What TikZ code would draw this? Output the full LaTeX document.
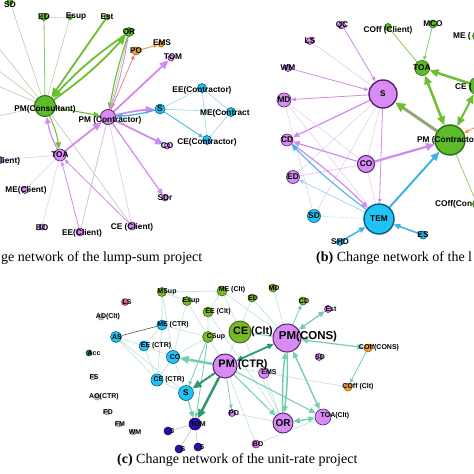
\documentclass[tikz,border=0pt]{standalone}
\usepackage{fontspec}
\newfontfamily\lblfont{Liberation Sans}
\newfontfamily\capfont{Liberation Serif}
\usetikzlibrary{arrows.meta}
\pgfdeclarelayer{bg}
\pgfsetlayers{bg,main}
\definecolor{gA}{HTML}{5DBB2A}\definecolor{gAd}{HTML}{2E6A10}
\definecolor{pA}{HTML}{D68CF2}\definecolor{pAd}{HTML}{5A2070}
\definecolor{cyA}{HTML}{20C4F4}\definecolor{cyAd}{HTML}{0A5A80}
\definecolor{oA}{HTML}{F0A030}\definecolor{oAd}{HTML}{A05A10}
\definecolor{gC}{HTML}{77B82A}\definecolor{gCd}{HTML}{3D6A10}
\definecolor{dB}{HTML}{2A10A8}\definecolor{dBd}{HTML}{180860}
\definecolor{gy}{HTML}{C4C4C4}\definecolor{gyd}{HTML}{909090}
\definecolor{pk}{HTML}{E0609A}\definecolor{acc}{HTML}{1E7A5A}
\definecolor{eGl}{HTML}{BCCCA8}\definecolor{eG}{HTML}{6CC030}
\definecolor{eGm}{HTML}{8DC860}\definecolor{eP}{HTML}{D08AF0}
\definecolor{ePl}{HTML}{E4C8F0}\definecolor{eB}{HTML}{3CB4E4}
\definecolor{eBl}{HTML}{9AD4EC}\definecolor{eR}{HTML}{E0806A}
\definecolor{eO}{HTML}{F0A040}\definecolor{ePG}{HTML}{8FA878}
\definecolor{eT}{HTML}{74CDAE}\definecolor{eTl}{HTML}{BEE2D6}
\definecolor{eD}{HTML}{2E9A6C}\definecolor{eK}{HTML}{555555}
\tikzset{
 nd/.style={circle,draw,inner sep=0pt,line width=0.6pt},
 ga/.style={nd,fill=gA,draw=gAd},
 pa/.style={nd,fill=pA,draw=pAd},
 cy/.style={nd,fill=cyA,draw=cyAd},
 oa/.style={nd,fill=oA,draw=oAd},
 gc/.style={nd,fill=gC,draw=gCd},
 db/.style={nd,fill=dB,draw=dBd},
 gyn/.style={nd,fill=gy,draw=gyd},
 lbl/.style={font=\lblfont\bfseries\fontsize{8.3}{9}\selectfont,inner sep=0pt},
 lbs/.style={font=\lblfont\bfseries\fontsize{7}{8}\selectfont,inner sep=0pt},
 lbb/.style={font=\lblfont\bfseries\fontsize{#1}{#1}\selectfont,inner sep=0pt},
 capf/.style={font=\capfont\fontsize{14}{16}\selectfont,inner sep=0pt},
 ahs/.style={-{Triangle[length=4.5pt,width=3.6pt]}},
 ahm/.style={-{Triangle[length=6.5pt,width=5.5pt]}},
 ahl/.style={-{Triangle[length=9pt,width=7.5pt]}},
 abm/.style={{Triangle[length=6.5pt,width=5.5pt]}-{Triangle[length=6.5pt,width=5.5pt]}},
 abl/.style={{Triangle[length=9pt,width=7.5pt]}-{Triangle[length=9pt,width=7.5pt]}},
}
\begin{document}
\begin{tikzpicture}[x=1pt,y=-1pt]
\useasboundingbox (0,0) rectangle (474,474);
% ---------------- panel (a) nodes
\node[ga,minimum size=6pt] (asd) at (10,2) {};
\node[ga,minimum size=7pt] (aed) at (44,17) {};
\node[ga,minimum size=5pt] (aesup) at (70,17) {};
\node[ga,minimum size=6pt] (aest) at (107,17) {};
\node[ga,minimum size=9pt] (aor) at (129,32) {};
\node[oa,minimum size=8pt] (apo) at (136,51) {};
\node[oa,minimum size=6pt] (aems) at (161,44) {};
\node[pa,minimum size=6pt] (atom) at (171,58) {};
\node[ga,minimum size=21pt,line width=1pt] (apmcons) at (45,106) {};
\node[pa,minimum size=15pt,line width=0.8pt] (apmctr) at (108,117) {};
\node[cy,minimum size=10pt] (as) at (160,109) {};
\node[cy,minimum size=9pt] (aee) at (202,88) {};
\node[cy,minimum size=9pt] (ame) at (231,112) {};
\node[cy,minimum size=9pt] (ace) at (207,140) {};
\node[pa,minimum size=6pt] (aco) at (167,146) {};
\node[pa,minimum size=12pt] (atoa) at (60,155) {};
\node[pa,minimum size=7pt] (alc) at (0,160) {};
\node[pa,minimum size=7pt] (amec) at (25,190) {};
\node[pa,minimum size=6pt] (abo) at (42,227) {};
\node[pa,minimum size=8pt] (aeec) at (80,232) {};
\node[pa,minimum size=8pt] (acec) at (132,226) {};
\node[pa,minimum size=6pt] (asdr) at (165,198) {};
\coordinate (aL1) at (-2,47);
\coordinate (aL2) at (-2,70);
\coordinate (aL3) at (-2,86);
\coordinate (aL4) at (-2,116);
% ---------------- panel (b) nodes
\node[pa,minimum size=7pt] (bqc) at (342,25) {};
\node[ga,minimum size=7pt] (bcoffcl) at (388,27) {};
\node[ga,minimum size=8pt] (bmco) at (433,24) {};
\node[ga,minimum size=9pt] (bme) at (477,36) {};
\node[pa,minimum size=7pt] (bls) at (310,41) {};
\node[pa,minimum size=7pt] (bwm) at (288,68) {};
\node[pa,minimum size=28pt,line width=1.4pt] (bs) at (383,94) {};
\node[pa,minimum size=14pt] (bmd) at (284,100) {};
\node[ga,minimum size=15pt] (btoa) at (422,68) {};
\node[ga,minimum size=18pt] (bce) at (478,86) {};
\node[ga,minimum size=30pt,line width=1.4pt] (bpm) at (450,140) {};
\node[pa,minimum size=12pt] (bcd) at (287,140) {};
\node[pa,minimum size=17pt,line width=1pt] (bco) at (366,164) {};
\node[pa,minimum size=13pt] (bed) at (293,177) {};
\node[cy,minimum size=13pt] (bsd) at (314,216) {};
\node[cy,minimum size=30pt,line width=1.4pt] (btem) at (379,219) {};
\node[cy,minimum size=7pt] (bshd) at (340,242) {};
\node[cy,minimum size=8pt] (bes) at (423,235) {};
\node[ga,minimum size=9pt] (bcoffco) at (477,204) {};
\coordinate (bR) at (476,127);
% ---------------- panel (c) nodes
\node[gc,minimum size=9pt] (cmsup) at (162,292) {};
\node[nd,fill=pk,draw=pk!60!black,minimum size=7pt] (cls) at (125,302) {};
\node[gc,minimum size=9pt] (cesup) at (187,301) {};
\node[gyn,minimum size=6pt] (cadclt) at (101,317) {};
\node[cy,minimum size=10pt] (cmectr) at (162,325) {};
\node[cy,minimum size=11pt] (cas) at (116,337) {};
\node[gc,minimum size=10pt] (ceeclt) at (208,312) {};
\node[gc,minimum size=10pt] (cmeclt) at (222,291) {};
\node[gc,minimum size=8pt] (cmd) at (273,288) {};
\node[gc,minimum size=8pt] (ced) at (252,298) {};
\node[gc,minimum size=8pt] (ccd) at (303,301) {};
\node[pa,minimum size=7pt] (cest) at (328,309) {};
\node[gc,minimum size=11pt] (ccsup) at (208,337) {};
\node[cy,minimum size=10pt] (ceectr) at (144,346) {};
\node[nd,fill=acc,draw=acc!60!black,minimum size=6pt] (cacc) at (89,353) {};
\node[cy,minimum size=13pt] (cco) at (173,357) {};
\node[gc,minimum size=22pt,line width=0.9pt] (cceclt) at (240,332) {};
\node[pa,minimum size=28pt,line width=1pt] (cpmcons) at (287,338) {};
\node[oa,minimum size=8pt] (ccoffcons) at (368,348) {};
\node[pa,minimum size=7pt] (csd) at (319,357) {};
\node[pa,minimum size=24pt,line width=1pt] (cpmctr) at (225,366) {};
\node[pa,minimum size=11pt] (cems) at (264,373) {};
\node[gyn,minimum size=6pt] (cfs) at (93,377) {};
\node[cy,minimum size=12pt] (ccectr) at (157,380) {};
\node[oa,minimum size=8pt] (ccoffclt) at (348,387) {};
\node[cy,minimum size=15pt] (cs) at (186,393) {};
\node[gyn,minimum size=6pt] (caoctr) at (97,397) {};
\node[gyn,minimum size=6pt] (cfo) at (107,412) {};
\node[pa,minimum size=7pt] (cpo) at (232,413) {};
\node[pa,minimum size=16pt] (ctoaclt) at (323,417) {};
\node[pa,minimum size=20pt,line width=0.9pt] (cor) at (283,423) {};
\node[db,minimum size=12pt] (ctom) at (195,424) {};
\node[gyn,minimum size=6pt] (cfm) at (119,424) {};
\node[gyn,minimum size=6pt] (cwm) at (133,432) {};
\node[db,minimum size=8pt] (csat1) at (168,431) {};
\node[db,minimum size=8pt] (csat2) at (179,449) {};
\node[db,minimum size=8pt] (csat3) at (198,447) {};
\node[pa,minimum size=8pt] (cbo) at (256,444) {};
% ---------------- edges
\begin{pgfonlayer}{bg}
\fill[white] (0,0) rectangle (474,474);
% (a)
\draw[eGl,line width=0.6] (asd)--(apmcons) (aesup)--(apmcons) (aL1)--(apmcons) (aL2)--(apmcons) (aL3)--(apmcons) (aL4)--(apmcons) (apmcons)--(acec) (aor)--(aeec);
\draw[gyd!50,line width=0.5,densely dotted] (aed)--(aesup);
\draw[eGm,line width=0.8] (aed)--(apmcons);
\draw[eG,line width=1.8,ahl] (aest)--(apmcons);
\draw[eG,line width=1.8,ahl] (aor) to[bend right=6] (apmcons);
\draw[eG,line width=1.8,ahl] (apmcons) to[bend right=6] (aor);
\draw[eG,line width=1.1,ahm] (aor) to[bend right=4] (apmctr);
\draw[eP,line width=0.9,ahm] (aor) to[bend left=4] (apmctr);
\draw[eG,line width=1.1,ahm] (apmcons)--(apmctr);
\draw[eG,line width=1,ahm] (apmcons) to[bend left=8] (atoa);
\draw[eP,line width=1.2,ahm] (atoa) to[bend left=8] (apmcons);
\draw[eP,line width=1.8,ahl] (atoa)--(apmctr);
\draw[eP,line width=1.8,ahl] (apmctr)--(atom);
\draw[eP,line width=1.8,ahl] (apmctr) to[bend left=5] (as);
\draw[eB,line width=1.2,ahm] (as) to[bend left=5] (apmctr);
\draw[eP,line width=1.8,ahl] (apmctr)--(aco);
\draw[eP,line width=1.2,ahm] (apmctr)--(asdr);
\draw[ePl,line width=0.7] (apmctr)--(acec) (apmctr)--(aeec);
\draw[eP,line width=0.8,ahs] (acec)--(atoa);
\draw[eP,line width=0.8,ahs] (aeec)--(atoa);
\draw[ePl,line width=0.6] (atoa)--(alc) (atoa)--(amec) (atoa)--(abo);
\draw[eR,line width=0.7,ahs] (apmctr)--(apo);
\draw[eO,line width=1,ahs] (apo)--(aems);
\draw[eBl,line width=0.6] (as)--(aee) (as)--(ame) (aee)--(ame) (aee)--(ace) (ame)--(ace);
\draw[eB,line width=0.8,ahs] (as)--(ace);
% (b)
\draw[eP,line width=0.8,ahs] (bqc)--(bs);
\draw[ePl,line width=0.6] (bls)--(bs);
\draw[eP,line width=0.8,ahs] (bwm)--(bs);
\draw[eP,line width=0.8,ahs] (bs)--(bmd);
\draw[eP,line width=1.2,ahm] (bs)--(bcd);
\draw[ePl,line width=0.5] (bs)--(bed) (bs)--(bsd) (bs)--(bco) (bmd)--(btem) (bmd)--(bco) (bco)--(btem) (bmd)--(bsd);
\draw[eP,line width=0.8,ahs] (bs)--(btem);
\draw[eP,line width=1.2,ahm] (bco)--(bcd);
\draw[ePl,line width=0.8] (bco)--(bed);
\draw[eP,line width=2.2,ahl] (bco)--(bpm);
\draw[eP,line width=1.2,ahm] (bcd) to[bend left=4] (btem);
\draw[eB,line width=1,ahm] (btem) to[bend left=4] (bcd);
\draw[eBl,line width=0.7,ahs] (btem)--(bed);
\draw[eBl,line width=0.6,densely dotted] (bsd)--(btem);
\draw[eB,line width=1.5,ahm] (bshd)--(btem);
\draw[eB,line width=1.5,ahm] (bes)--(btem);
\draw[eB,line width=2,ahl] (btem)--(bpm);
\draw[ePG,line width=3,-{Triangle[length=10pt,width=9pt,color=eG]}] (bpm)--(bs);
\draw[eG,line width=2.5,abl] (bpm)--(btoa);
\draw[eG,line width=2,abl] (bpm)--(bce);
\draw[eG,line width=2.5,ahl] (bce)--(btoa);
\draw[eGm,line width=0.8] (bcoffcl)--(btoa);
\draw[eGm,line width=0.8,ahs] (bmco)--(btoa);
\draw[eGm,line width=0.7] (bpm)--(bcoffco);
\draw[eO,line width=1,ahs] (bR)--(bpm);
% (c) light
\draw[eTl,line width=0.6] (cmsup)--(cesup) (cmsup)--(cmectr) (cmsup)--(cco) (cmsup)--(cmeclt) (cesup)--(cco) (cesup)--(ccsup) (cmeclt)--(ceeclt) (cmeclt)--(cpmcons) (ced)--(cpmcons) (cmd)--(cpmcons) (ceeclt)--(cor) (ceeclt)--(ccsup) (cmectr)--(ccsup) (cmectr)--(ceectr) (cmectr)--(ccectr) (ceectr)--(ccectr) (ceectr)--(cco) (ccectr)--(cco) (ccectr)--(cs) (cas)--(ceectr) (cas)--(ccectr) (cas)--(cs) (ccsup)--(cpmctr) (ccsup)--(cco) (cpo)--(cor) (cbo)--(ctoaclt) (cbo)--(cpmctr) (cems)--(cor) (cpmctr)--(ccoffclt) (cmeclt)--(cor) (ced)--(cpmctr) (cco)--(cs);
\draw[eK,line width=0.6] (cas)--(cmectr);
\draw[gy,line width=0.6] (ctom)--(csat1) (ctom)--(csat2) (ctom)--(csat3);
% (c) mint
\draw[eT,line width=0.9] (cceclt)--(cpmcons);
\draw[eT,line width=1.5,ahm] (cpmcons) to[bend left=4] (cor);
\draw[eT,line width=1.5,ahm] (cor) to[bend left=4] (cpmcons);
\draw[eT,line width=1.4,abm] (cpmcons)--(ctoaclt);
\draw[eT,line width=1.4,abm] (cor)--(ctoaclt);
\draw[eT,line width=1.2,abm] (cpmcons)--(ccoffcons);
\draw[eT,line width=1.2,abm] (cpmcons)--(cest);
\draw[eT,line width=0.8,ahs] (cpmcons)--(ccd);
\draw[eT,line width=0.8,ahs] (ccoffcons)--(ccoffclt);
\draw[eT,line width=1,ahm] (cpmctr)--(cor);
\draw[eT,line width=1,ahm] (cpmctr)--(ctoaclt);
\draw[eT,line width=0.7,ahs] (cpmctr)--(cpo);
\draw[eT,line width=1,ahm] (cs)--(ctom);
\draw[eT,line width=0.8,ahs] (ccsup)--(cs);
\draw[eT,line width=0.8,ahs] (ccsup)--(ctom);
\draw[eT,line width=2.5,ahl] (cpmctr)--(cco);
% (c) dark
\draw[eD,line width=1.8,abm] (cpmctr)--(cpmcons);
\draw[eD,line width=2,ahl] (cpmctr)--(cs);
\draw[eD,line width=2.5,ahl] (cpmctr)--(ctom);
\end{pgfonlayer}
% ---------------- labels (a)
\node[lbl] (l-asd) at (10,4.5) {SD};
\node[lbl] (l-aed) at (44,17) {ED};
\node[lbl] (l-aesup) at (76,17) {Esup};
\node[lbl] (l-aest) at (107,17) {Est};
\node[lbl] (l-aor) at (129,32) {OR};
\node[lbl] (l-apo) at (136,51) {PO};
\node[lbl] (l-aems) at (162,43) {EMS};
\node[lbl] (l-atom) at (173,57) {TOM};
\node[lbl] (l-apmcons) at (45,109) {PM(Consultant)};
\node[lbl] (l-apmctr) at (110,120) {PM (Contractor)};
\node[lbl] (l-as) at (160,109) {S};
\node[lbl] (l-aee) at (202,90) {EE(Contractor)};
\node[lbl,anchor=west] (l-ame) at (200,113) {ME(Contract};
\node[lbl] (l-ace) at (207,142) {CE(Contractor)};
\node[lbl] (l-aco) at (167,146) {CO};
\node[lbl] (l-atoa) at (60,155) {TOA};
\node[lbl,anchor=west] (l-alc) at (0,161) {lient)};
\node[lbl] (l-amec) at (26,190) {ME(Client)};
\node[lbl] (l-abo) at (42,228) {BO};
\node[lbl] (l-aeec) at (82,233) {EE(Client)};
\node[lbl] (l-acec) at (132,227) {CE (Client)};
\node[lbl] (l-asdr) at (165,198) {SDr};
% ---------------- labels (b)
\node[lbl] (l-bqc) at (342,25) {QC};
\node[lbl] (l-bcoffcl) at (388,30) {COff (Client)};
\node[lbl] (l-bmco) at (433,24) {MCO};
\node[lbl,anchor=west] (l-bme) at (453,36) {ME (};
\node[lbl] (l-bls) at (310,41) {LS};
\node[lbl] (l-bwm) at (288,68) {WM};
\node[lbl] (l-bs) at (383,94) {S};
\node[lbl] (l-bmd) at (284,100) {MD};
\node[lbl] (l-btoa) at (422,68) {TOA};
\node[lbl,anchor=west] (l-bce) at (455,87) {CE (};
\node[lbl,anchor=west] (l-bpm) at (417,140) {PM (Contracto};
\node[lbl] (l-bcd) at (287,140) {CD};
\node[lbl] (l-bco) at (366,164) {CO};
\node[lbl] (l-bed) at (293,177) {ED};
\node[lbl] (l-bsd) at (314,216) {SD};
\node[lbl] (l-btem) at (379,219) {TEM};
\node[lbl] (l-bshd) at (340,242) {SHD};
\node[lbl] (l-bes) at (423,235) {ES};
\node[lbl,anchor=west] (l-bcoffco) at (435,204) {COff(Con};
% ---------------- labels (c)
\node[lbs] (l-cmsup) at (167,292) {MSup};
\node[lbs] (l-cls) at (127,302) {LS};
\node[lbs] (l-cesup) at (191,301) {Esup};
\node[lbs] (l-cadclt) at (108,317) {AD(Clt)};
\node[lbs] (l-cmectr) at (173,325) {ME (CTR)};
\node[lbs] (l-cas) at (117,337) {AS};
\node[lbs] (l-ceeclt) at (218,312) {EE (Clt)};
\node[lbs] (l-cmeclt) at (232,290) {ME (Clt)};
\node[lbs] (l-cmd) at (274,288) {MD};
\node[lbs] (l-ced) at (253,298) {ED};
\node[lbs] (l-ccd) at (304,301) {CD};
\node[lbs] (l-cest) at (331,309) {Est};
\node[lbs] (l-ccsup) at (216,337) {CSup};
\node[lbs] (l-ceectr) at (156,346) {EE (CTR)};
\node[lbs] (l-cacc) at (94,353) {Acc};
\node[lbs] (l-cco) at (175,357) {CO};
\node[lbb=10.8] (l-cceclt) at (253,332) {CE (Clt)};
\node[lbb=11.5] (l-cpmcons) at (308,337) {PM(CONS)};
\node[lbs] (l-ccoffcons) at (379,348) {COff(CONS)};
\node[lbs] (l-csd) at (320,357) {SD};
\node[lbb=10.9] (l-cpmctr) at (243,365) {PM (CTR)};
\node[lbs] (l-cems) at (269,372) {EMS};
\node[lbs] (l-cfs) at (94,377) {FS};
\node[lbs] (l-ccectr) at (169,380) {CE (CTR)};
\node[lbs] (l-ccoffclt) at (358,387) {COff (Clt)};
\node[lbl] (l-cs) at (186,393) {S};
\node[lbs] (l-caoctr) at (104,397) {AO(CTR)};
\node[lbs] (l-cfo) at (108,412) {FO};
\node[lbs] (l-cpo) at (234,413) {PO};
\node[lbs] (l-ctoaclt) at (335,416) {TOA(Clt)};
\node[lbb=10] (l-cor) at (283,423) {OR};
\node[lbs] (l-ctom) at (198,424) {TOM};
\node[lbs] (l-cfm) at (120,424) {FM};
\node[lbs] (l-cwm) at (135,432) {WM};
\node[lbs] (l-csat1) at (172,431) {S};
\node[lbs] (l-csat2) at (183,449) {S};
\node[lbs] (l-csat3) at (202,447) {S};
\node[lbs] (l-cbo) at (258,444) {BO};
% ---------------- captions
\node[capf,anchor=west] (capa) at (1,258) {ge network of the lump-sum project};
\node[capf,anchor=west] (capb) at (316,258) {\textbf{(b)} Change network of the l};
\node[capf,anchor=west] (capc) at (117,460) {\textbf{(c)} Change network of the unit-rate project};
\end{tikzpicture}
\end{document}
